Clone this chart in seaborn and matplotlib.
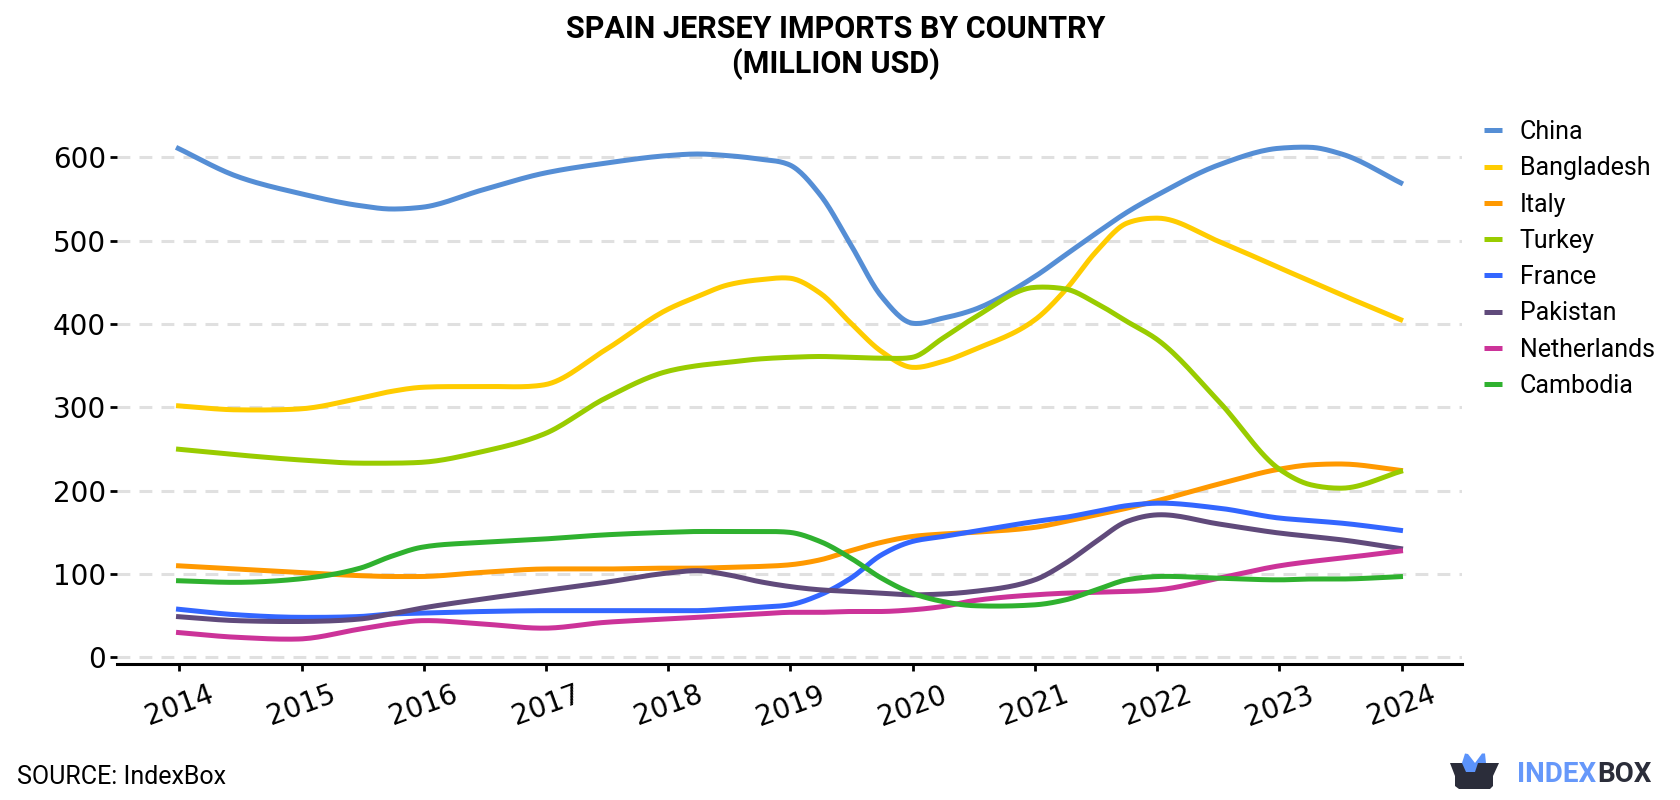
import numpy as np
import pandas as pd
import matplotlib
matplotlib.use("Agg")
import matplotlib.pyplot as plt
from matplotlib.patches import Polygon
import seaborn as sns

# Import values in million USD, sampled along each yearly curve
periods = [2014, 2014.5, 2015, 2015.5, 2015.75, 2016, 2016.5, 2017, 2017.5, 2018, 2018.25, 2018.5, 2018.75, 2019,
           2019.25, 2019.5, 2019.75, 2020, 2020.25, 2020.5, 2021,
           2021.25, 2021.5, 2021.75, 2022, 2022.5, 2023, 2023.25, 2023.5, 2024]

china = [612, 577, 557, 542, 538, 540, 561, 581, 593, 602, 604, 602, 598, 591,
         555, 495, 433, 401, 407, 417, 457, 483, 509, 534, 555, 591, 611, 612, 604, 568]
bangladesh = [302, 297, 298, 311, 319, 324, 325, 327, 369, 417, 433, 447, 453, 455,
              437, 401, 367, 348, 355, 369, 405, 441, 487, 521, 527, 499, 467, 451, 435, 404]
italy = [110, 106, 102, 98, 97, 97, 102, 106, 106, 107, 107, 108, 109, 111,
         117, 128, 138, 145, 148, 150, 156, 163, 171, 179, 188, 208, 226, 231, 232, 224]
turkey = [250, 243, 237, 233, 233, 234, 247, 268, 311, 343, 350, 354, 358, 360,
          361, 360, 359, 360, 383, 407, 444, 442, 425, 403, 381, 307, 225, 207, 203, 224]
france = [58, 51, 48, 49, 52, 53, 55, 56, 56, 56, 56, 58, 60, 63,
          75, 95, 123, 139, 145, 151, 163, 168, 175, 182, 185, 179, 167, 164, 161, 152]
pakistan = [49, 44, 43, 46, 52, 59, 70, 80, 90, 101, 104, 99, 91, 85,
            81, 79, 77, 75, 76, 79, 93, 113, 139, 163, 171, 160, 149, 145, 141, 130]
netherlands = [30, 24, 22, 34, 40, 44, 40, 35, 42, 46, 48, 50, 52, 54,
               54, 55, 55, 57, 61, 68, 75, 77, 78, 79, 81, 95, 110, 115, 119, 128]
cambodia = [92, 90, 94, 107, 121, 132, 138, 142, 147, 150, 151, 151, 151, 150,
            139, 119, 95, 77, 67, 62, 63, 69, 81, 93, 97, 95, 93, 94, 94, 97]

countries = ["China", "Bangladesh", "Italy", "Turkey", "France", "Pakistan", "Netherlands", "Cambodia"]
series = [china, bangladesh, italy, turkey, france, pakistan, netherlands, cambodia]
colors = ["#558ed5", "#ffcc00", "#ff9900", "#99cc00", "#3366ff", "#604a7b", "#cc3399", "#2fb12f"]
year_ticks = list(range(2014, 2025))
value_ticks = [0, 100, 200, 300, 400, 500, 600]

TITLE = "SPAIN JERSEY IMPORTS BY COUNTRY\n(MILLION USD)"
SOURCE = "SOURCE: IndexBox"
W, H = 1680, 800


def smooth(x, y, per_segment=16):
    """Cubic curve through the samples; slopes blend a monotone limiter with finite differences."""
    x, y = np.asarray(x, float), np.asarray(y, float)
    h = np.diff(x)
    delta = np.diff(y) / h
    limited = np.zeros_like(y)
    for i in range(1, len(x) - 1):
        if delta[i - 1] * delta[i] > 0:
            w1 = 2 * h[i] + h[i - 1]
            w2 = h[i] + 2 * h[i - 1]
            limited[i] = (w1 + w2) / (w1 / delta[i - 1] + w2 / delta[i])
    limited[0], limited[-1] = delta[0], delta[-1]
    m = 0.55 * limited + 0.45 * np.gradient(y, x)
    xs, ys = [], []
    for i in range(len(x) - 1):
        t = np.linspace(0, 1, per_segment, endpoint=False)
        a = 2 * t**3 - 3 * t**2 + 1
        b = t**3 - 2 * t**2 + t
        c = -2 * t**3 + 3 * t**2
        d = t**3 - t**2
        xs.append(x[i] + t * h[i])
        ys.append(a * y[i] + b * h[i] * m[i] + c * y[i + 1] + d * h[i] * m[i + 1])
    xs.append(x[-1:])
    ys.append(y[-1:])
    return np.concatenate(xs), np.concatenate(ys)


frames = []
for name, vals in zip(countries, series):
    sx, sy = smooth(periods, vals)
    frames.append(pd.DataFrame({"year": 2013.973 + (sx - 2014) * 1.0039, "value": sy, "country": name}))
df = pd.concat(frames, ignore_index=True)

sns.set_theme(style="white")
plt.rcParams["font.family"] = ["DejaVu Sans"]

fig = plt.figure(figsize=(W / 100, H / 100), dpi=100)
ax = fig.add_axes([117 / W, 1 - 664 / H, (1462 - 117) / W, (664 - 125) / H])

ax.set_xlim(2013.49, 2024.495)
ax.set_ylim(-8, 638.8)

# Dashed horizontal guides sit below the curves
ax.set_yticks(value_ticks)
ax.yaxis.grid(True, color="#e0e0e0", linewidth=2.2, linestyle=(0, (4.2, 3.0)))
ax.set_axisbelow(True)

sns.lineplot(data=df, x="year", y="value", hue="country", hue_order=countries,
             palette=dict(zip(countries, colors)), linewidth=3.6, sort=False,
             estimator=None, ax=ax)
for line in ax.get_lines():
    line.set_solid_capstyle("butt")

ax.set_xticks(year_ticks)
ax.set_xticklabels([str(y) for y in year_ticks], rotation=20, ha="center")
ax.set_xlabel("")
ax.set_ylabel("")
ax.tick_params(axis="x", bottom=True, length=5, width=2, color="black", labelcolor="black", labelsize=20, pad=7)
ax.tick_params(axis="y", left=True, length=5, width=2, color="black", labelcolor="black", labelsize=20, pad=3)
for side in ("top", "right", "left"):
    ax.spines[side].set_visible(False)
ax.spines["bottom"].set_linewidth(2.2)
ax.spines["bottom"].set_color("black")

handles, labels = ax.get_legend_handles_labels()
leg = ax.legend(handles, labels, loc="upper left", bbox_to_anchor=(1484 / W, 1 - 120 / H),
                bbox_transform=fig.transFigure, frameon=False, ncol=1, borderpad=0, borderaxespad=0,
                handlelength=0.72, handletextpad=0.70, labelspacing=0.492,
                labelcolor="black", prop={"family": "Roboto", "size": 18})
for h in leg.get_lines():
    h.set_linewidth(3.6)
    h.set_solid_capstyle("butt")

fig.text(836 / W, 1 - 47 / H, TITLE, ha="center", va="center", family="Roboto",
         weight="bold", fontsize=22, color="black", linespacing=1.15)
fig.text(17 / W, 1 - 777 / H, SOURCE, ha="left", va="center", family="Roboto",
         fontsize=18, color="black")


# Brand mark: open box with two blue points and the wordmark beside it
def px(points):
    return [(x / W, 1 - y / H) for x, y in points]


fig.add_artist(Polygon(px([(1450, 763), (1499, 763), (1493, 776), (1493, 786), (1490, 789),
                           (1459, 789), (1455, 786), (1455, 776)]),
                       closed=True, transform=fig.transFigure, facecolor="#2b2d3a", edgecolor="none", zorder=2))
fig.add_artist(Polygon(px([(1462, 763), (1465, 753.5), (1468, 754), (1475, 763), (1482, 753.5), (1485, 753.5),
                           (1486, 763), (1478, 763), (1475, 772), (1466, 772)]),
                       closed=True, transform=fig.transFigure, facecolor="#5b93fb", edgecolor="none", zorder=3))
word_a = fig.text(1517 / W, 1 - 774 / H, "INDEX", ha="left", va="center", family="Roboto",
                  weight="bold", fontsize=20, color="#6698fa")
fig.canvas.draw()
bbox = word_a.get_window_extent()
fig.text(bbox.x1 / W + 1 / W, 1 - 774 / H, "BOX", ha="left", va="center", family="Roboto",
         weight="bold", fontsize=20, color="#2b2d3a")

fig.savefig("out.png", dpi=100, facecolor="white")
